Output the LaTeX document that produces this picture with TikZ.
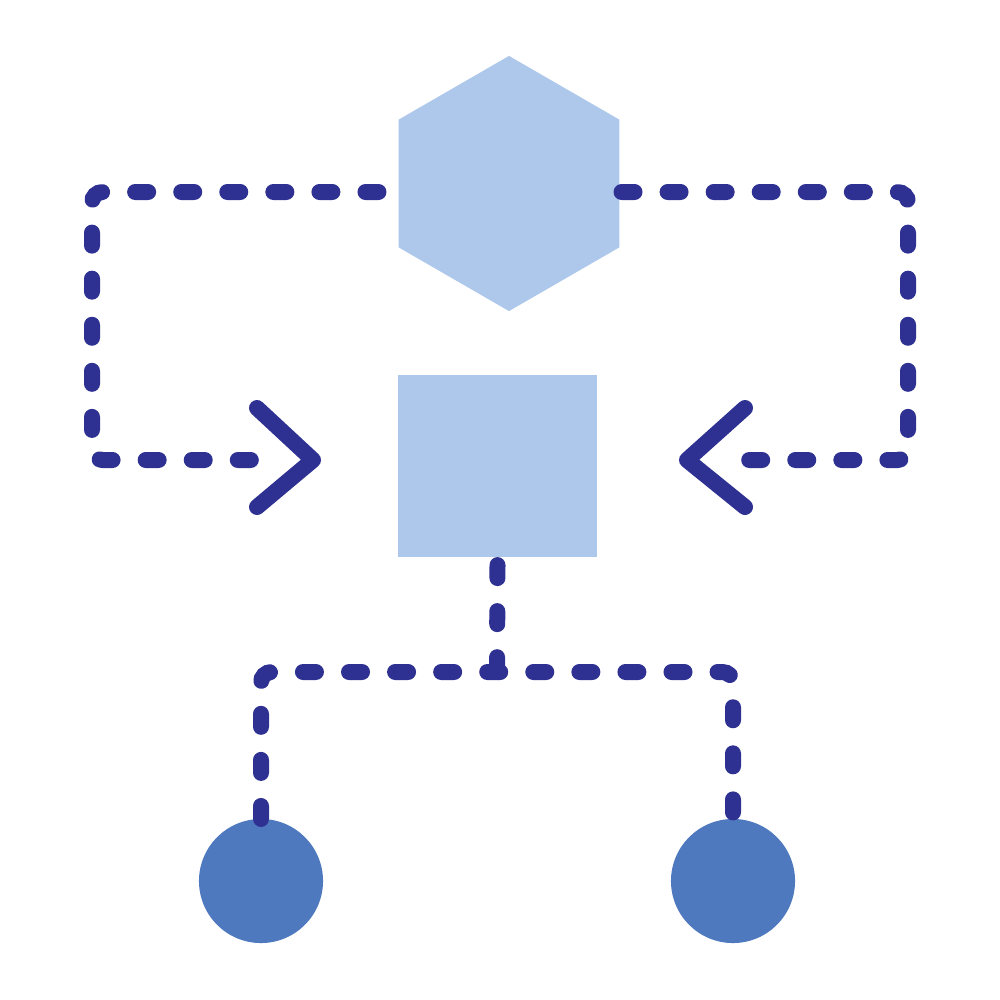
\documentclass[tikz,border=0pt]{standalone}
\usepackage{tikz}
\usepackage{xcolor}
\usetikzlibrary{shapes.geometric}
\definecolor{flownavy}{RGB}{46, 49, 146}
\definecolor{flowpale}{RGB}{173, 200, 234}
\definecolor{flowblue}{RGB}{79, 121, 191}

\tikzset{
  flow/.style={draw=flownavy, line width=4.55pt, line cap=round,
    dash pattern=on 3.7pt off 9.4pt, rounded corners=3pt},
  chev/.style={draw=flownavy, line width=4.55pt, line cap=round, line join=round},
}

\begin{document}
\begin{tikzpicture}[x=0.01cm, y=-0.01cm]
\useasboundingbox (0,0) rectangle (1000,1000);
\fill[white] (0,0) rectangle (1000,1000);

% shapes
\node[regular polygon, regular polygon sides=6, shape border rotate=30,
  fill=flowpale, minimum size=2.55cm, inner sep=0pt, outer sep=0pt] (hex) at (509,183.5) {};
\node[rectangle, fill=flowpale, minimum width=1.99cm, minimum height=1.82cm,
  inner sep=0pt, outer sep=0pt] (box) at (497.5,466) {};
\node[circle, fill=flowblue, minimum size=1.24cm, inner sep=0pt, outer sep=0pt] (lc) at (261,881) {};
\node[circle, fill=flowblue, minimum size=1.24cm, inner sep=0pt, outer sep=0pt] (rc) at (733,881) {};

% loop corners and arrow points
\coordinate (ll) at (92,460);
\coordinate (la) at (270,460);
\coordinate (lt) at (313,460);
\coordinate (rl) at (908,460);
\coordinate (ra) at (730,460);
\coordinate (rt) at (687,460);
\coordinate (j) at (497,672);

% left loop
\draw[flow] ([shift={(-20,8.5)}]hex.west) -| (ll) -- (la);
\draw[chev] ([shift={(-56,-52)}]lt) -- (lt) -- ([shift={(-56,47)}]lt);

% right loop
\draw[flow] ([shift={(2,8.5)}]hex.east) -| (rl) -- (ra);
\draw[chev] ([shift={(58,-52)}]rt) -- (rt) -- ([shift={(58,47)}]rt);

% branch to circles
\draw[flow] ([shift={(0,8)}]box.south) -- (j);
\draw[flow] (lc.north) |- (j) -| (rc.north);
\end{tikzpicture}
\end{document}
